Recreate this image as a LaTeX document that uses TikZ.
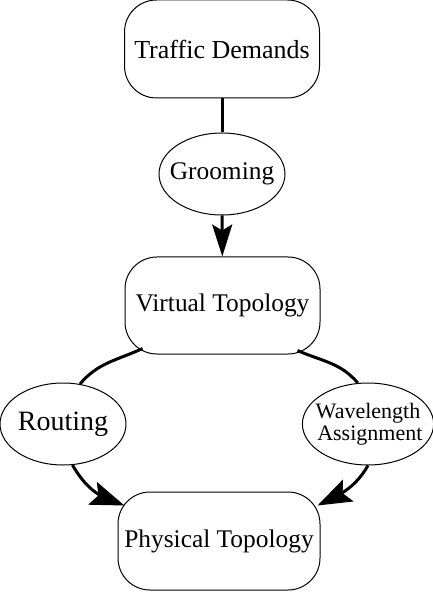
\documentclass[tikz,border=0pt]{standalone}
\usepackage{fontspec}
\setmainfont{Liberation Serif}
\usepackage{tikz}
\usetikzlibrary{arrows.meta}
\usetikzlibrary{bending}
\usetikzlibrary{shapes.geometric}
\tikzset{box/.style={draw,line width=0.5pt,rounded corners=16pt,inner sep=0pt,minimum width=97.5pt,minimum height=49pt,font=\fontsize{12.7}{12.7}\selectfont}}
\tikzset{oval/.style={draw,ellipse,line width=0.5pt,inner xsep=-4pt,inner ysep=0pt,minimum width=63pt,minimum height=41pt,font=\fontsize{12.7}{12.7}\selectfont}}
\tikzset{ln/.style={line width=1.5pt}}
\tikzset{ar/.style={line width=1.5pt,-{Stealth[length=16pt,width=10pt,inset=3pt]}}}
\tikzset{arc/.style={line width=1.5pt,-{Stealth[length=17pt,width=12pt,inset=3pt,flex=0.8]}}}

\begin{document}
\begin{tikzpicture}[x=0.5pt,y=-0.5pt]
          \useasboundingbox (0,0) rectangle (432,592);
          \node [box, font=\fontsize{13}{13}\selectfont] (traf) at (222,49) {Traffic Demands};
          \node [box, minimum height=48.5pt] (virt) at (222.5,305.5) {Virtual Topology};
          \node [oval] (groom) at (222,174) {Grooming}
            edge [ln] (traf)
            edge [ar] (virt);
          \node [oval, font=\fontsize{14}{14}\selectfont] (rout) at (63,424) {Routing};
          \node [oval, align=center, font=\fontsize{11}{11}\selectfont] (wave) at (368,424) {Wavelength\\ \,Assignment};
          \node [box, minimum width=101pt] (phys) at (219,541) {Physical Topology};
          \draw [ln] ([shift={(18,-6)}]virt.south west) to [out=205,in=50] (rout.67);
          \draw [arc] (rout.-77) to [out=-60,in=165] ([shift={(7,14)}]phys.north west);
          \draw [ln] ([shift={(-23,-4)}]virt.south east) to [out=-24,in=130] (wave.104);
          \draw [arc] (wave.south) to [out=240,in=24] ([shift={(-3,14)}]phys.north east);
        \end{tikzpicture}
\end{document}
